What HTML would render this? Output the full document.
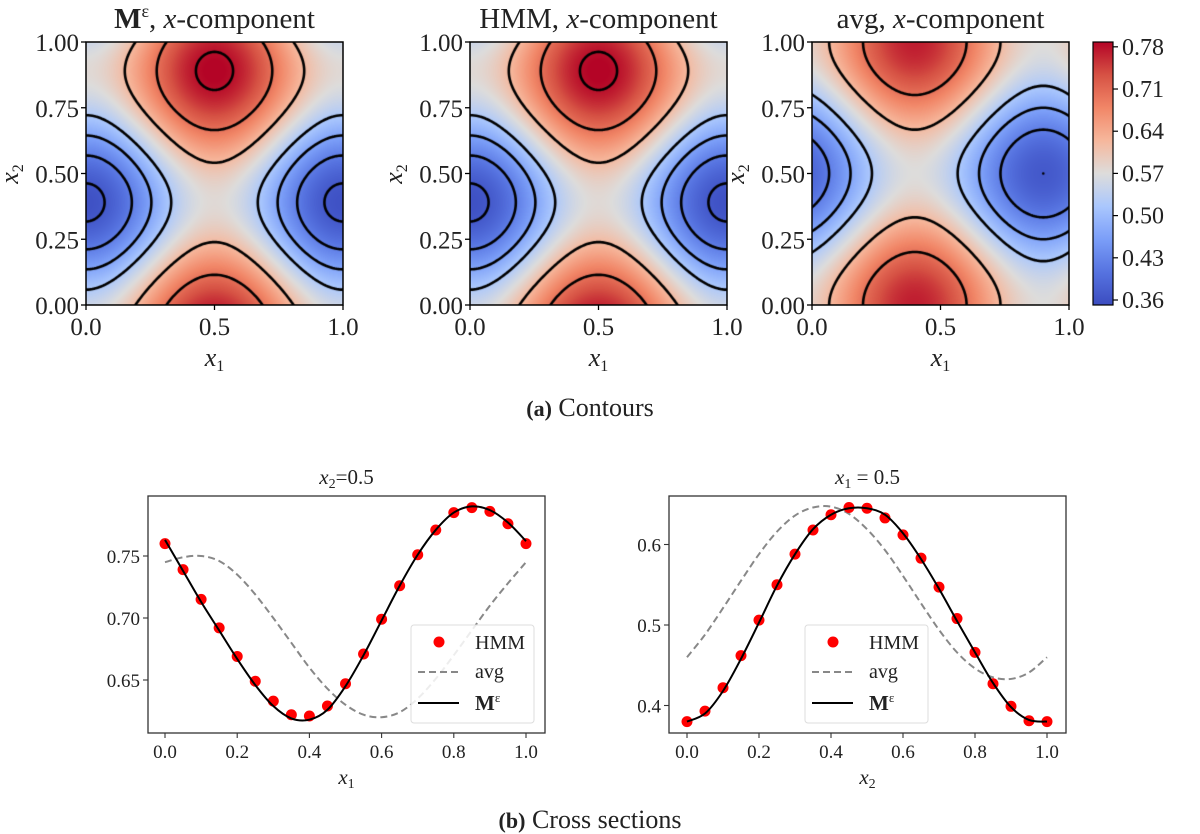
<!DOCTYPE html>
<html><head><meta charset="utf-8">
<style>
html,body{margin:0;padding:0;background:#fff;}
#root{position:relative;width:1200px;height:834px;overflow:hidden;font-family:"Liberation Serif",serif;}
canvas{position:absolute;}
svg{position:absolute;left:0;top:0;}
</style></head>
<body>
<div id="root">
<canvas id="c0" width="257" height="263" style="left:86px;top:42px"></canvas>
<canvas id="c1" width="257" height="263" style="left:470px;top:42px"></canvas>
<canvas id="c2" width="257" height="263" style="left:812px;top:42px"></canvas>
<svg id="s" width="1200" height="834"></svg>
</div>
<script>
// ---- data ----
const panelTitles = ["M^ε", "HMM", "avg"];
const panelLeft = [86, 470, 812];
const fieldMean = [0.575, 0.575, 0.57];
const fieldAmp = [0.108, 0.108, 0.1];
const fieldPhaseX1 = [0.0, 0.0, 0.4];
const fieldPhaseX2 = [0.89, 0.89, 0.0];
const fieldSignX1 = [-1, -1, 1];
const contourLevels = [0.37, 0.42, 0.47, 0.52, 0.62, 0.70, 0.78];
const cbTicks = [0.36, 0.43, 0.50, 0.57, 0.64, 0.71, 0.78];
const vmin = 0.3517, vmax = 0.788;
const topXTicks = [0.0, 0.5, 1.0];
const topYTicks = [0.00, 0.25, 0.50, 0.75, 1.00];

const xs = [0,0.05,0.1,0.15,0.2,0.25,0.3,0.35,0.4,0.45,0.5,0.55,0.6,0.65,0.7,0.75,0.8,0.85,0.9,0.95,1.0];
const hmmA = [0.760,0.739,0.715,0.692,0.669,0.649,0.633,0.622,0.621,0.629,0.647,0.671,0.699,0.726,0.751,0.771,0.785,0.789,0.786,0.776,0.760];
const avgA = [0.745,0.749,0.750,0.746,0.735,0.719,0.700,0.680,0.660,0.643,0.630,0.622,0.620,0.624,0.635,0.651,0.670,0.690,0.710,0.728,0.745];
const mA = [0.763,0.738,0.713,0.690,0.667,0.646,0.629,0.619,0.618,0.626,0.645,0.670,0.698,0.726,0.751,0.771,0.785,0.790,0.787,0.777,0.762];
const hmmB = [0.380,0.393,0.422,0.462,0.506,0.550,0.588,0.618,0.637,0.646,0.645,0.633,0.612,0.583,0.547,0.508,0.466,0.427,0.399,0.381,0.380];
const avgB = [0.460,0.488,0.521,0.555,0.588,0.616,0.636,0.646,0.647,0.638,0.619,0.593,0.561,0.527,0.494,0.466,0.446,0.435,0.433,0.441,0.460];
const mB = [0.380,0.390,0.418,0.458,0.503,0.549,0.588,0.619,0.637,0.645,0.645,0.637,0.614,0.582,0.545,0.505,0.466,0.428,0.398,0.382,0.380];
const xTicksB = [0.0,0.2,0.4,0.6,0.8,1.0];
const yTicksA = [0.65,0.70,0.75];
const yTicksB = [0.4,0.5,0.6];

// ---- colormap ----
const cmStops=[[59,76,192],[86,115,224],[123,158,248],[170,199,253],[221,220,219],[246,183,156],[241,134,103],[214,82,68],[180,4,38]];
function cmap(v){let t=(v-vmin)/(vmax-vmin);t=Math.max(0,Math.min(1,t));const s=t*8;const i=Math.min(7,Math.floor(s));const f=s-i;const a=cmStops[i],b=cmStops[i+1];return [a[0]+(b[0]-a[0])*f,a[1]+(b[1]-a[1])*f,a[2]+(b[2]-a[2])*f];}
function field(p,x1,x2){return fieldMean[p]+fieldAmp[p]*(fieldSignX1[p]*Math.cos(2*Math.PI*(x1-fieldPhaseX1[p]))+Math.cos(2*Math.PI*(x2-fieldPhaseX2[p])));}

const W=257,H=263;
for(let p=0;p<3;p++){
  const cv=document.getElementById('c'+p),ctx=cv.getContext('2d');
  const img=ctx.createImageData(W,H);
  for(let j=0;j<H;j++)for(let i=0;i<W;i++){
    const c=cmap(field(p,(i+0.5)/W,1-(j+0.5)/H));const k=(j*W+i)*4;
    img.data[k]=c[0];img.data[k+1]=c[1];img.data[k+2]=c[2];img.data[k+3]=255;}
  ctx.putImageData(img,0,0);
  const N=120;const g=[];
  for(let j=0;j<=N;j++){g.push([]);for(let i=0;i<=N;i++)g[j].push(field(p,i/N,1-j/N));}
  ctx.strokeStyle='#000';ctx.lineWidth=2.6;ctx.lineCap='round';
  for(const L of contourLevels){
    ctx.beginPath();
    for(let j=0;j<N;j++)for(let i=0;i<N;i++){
      const v=[g[j][i],g[j][i+1],g[j+1][i+1],g[j+1][i]];
      const P=[[i,j],[i+1,j],[i+1,j+1],[i,j+1]];
      const pts=[];
      for(let e=0;e<4;e++){const a=v[e],b=v[(e+1)%4];
        if((a<L)!==(b<L)){const t=(L-a)/(b-a);const A=P[e],B=P[(e+1)%4];
          pts.push([(A[0]+(B[0]-A[0])*t)*W/N,(A[1]+(B[1]-A[1])*t)*H/N]);}}
      for(let k=0;k+1<pts.length;k+=2){ctx.moveTo(pts[k][0],pts[k][1]);ctx.lineTo(pts[k+1][0],pts[k+1][1]);}
    }
    ctx.stroke();
  }
}

// ---- SVG ----
const S=document.getElementById('s');const NS='http://www.w3.org/2000/svg';
function el(tag,attrs,parent){const e=document.createElementNS(NS,tag);for(const k in attrs)e.setAttribute(k,attrs[k]);(parent||S).appendChild(e);return e;}
function txt(x,y,str,size,anchor,extra){const t=el('text',Object.assign({x:x,y:y,'font-size':size,'text-anchor':anchor||'middle','font-family':'"Liberation Serif",serif',fill:'#222'},extra||{}));t.innerHTML=str;return t;}

const titleHTML=['<tspan font-weight="bold">M</tspan><tspan font-size="18" dy="-11">ε</tspan><tspan dy="11">, </tspan><tspan font-style="italic">x</tspan>-component',
 'HMM, <tspan font-style="italic">x</tspan>-component','avg, <tspan font-style="italic">x</tspan>-component'];
for(let p=0;p<3;p++){
  const x0=panelLeft[p];
  const g=el('g',{});
  
  
  el('rect',{x:x0,y:42,width:W,height:H,fill:'none',stroke:'#000','stroke-width':1.5},g);
  const t=txt(x0+W/2,28,titleHTML[p],29,'middle');
  
  
  g.appendChild(t);
  for(const v of topXTicks){const x=x0+v*W;el('line',{x1:x,x2:x,y1:305,y2:310,stroke:'#000','stroke-width':1.3},g);
    const tl=txt(x,335,v.toFixed(1),25);g.appendChild(tl);}
  for(const v of topYTicks){const y=305-v*H;el('line',{x1:x0-5,x2:x0,y1:y,y2:y,stroke:'#000','stroke-width':1.3},g);
    const tl=txt(x0-7,y+9,v.toFixed(2),25,'end');g.appendChild(tl);}
  const xl=txt(x0+W/2,366,'<tspan font-style="italic">x</tspan><tspan font-size="16" dy="5">1</tspan>',26);
  g.appendChild(xl);
  const yl=txt(0,0,'<tspan font-style="italic">x</tspan><tspan font-size="16" dy="5">2</tspan>',26,'middle',{transform:'translate('+(x0-68)+',174) rotate(-90)'});
  g.appendChild(yl);
}
// colorbar
const defs=el('defs',{});const lg=el('linearGradient',{id:'cbg',x1:0,y1:1,x2:0,y2:0},defs);
for(let i=0;i<=16;i++){const c=cmap(vmin+(vmax-vmin)*i/16);el('stop',{offset:i/16,'stop-color':'rgb('+c.map(Math.round).join(',')+')'},lg);}
const cb=el('g',{});
el('rect',{x:1093,y:42,width:20,height:263,fill:'url(#cbg)',stroke:'#000','stroke-width':1.2},cb);
for(const v of cbTicks){const y=305-(v-vmin)/(vmax-vmin)*263;el('line',{x1:1113,x2:1118,y1:y,y2:y,stroke:'#000','stroke-width':1.2},cb);
  const tl=txt(1122,y+8,v.toFixed(2),24,'start');cb.appendChild(tl);}
const capA=txt(590,416,'<tspan font-weight="bold" font-size="22">(a)</tspan>  Contours',26);

const capB=txt(590,828,'<tspan font-weight="bold" font-size="22">(b)</tspan>  Cross sections',26);


function smoothPath(pts){let d='M'+pts[0][0]+','+pts[0][1];for(let i=0;i<pts.length-1;i++){const p0=pts[Math.max(0,i-1)],p1=pts[i],p2=pts[i+1],p3=pts[Math.min(pts.length-1,i+2)];
  d+=' C'+(p1[0]+(p2[0]-p0[0])/6)+','+(p1[1]+(p2[1]-p0[1])/6)+' '+(p2[0]-(p3[0]-p1[0])/6)+','+(p2[1]-(p3[1]-p1[1])/6)+' '+p2[0]+','+p2[1];}return d;}
function crossPlot(cfg){
  const g=el('g',{});
  const sx=v=>cfg.x0+(cfg.x1-cfg.x0)*v;
  const sy=v=>cfg.yRef-(v-cfg.vRef)*cfg.k;
  el('rect',{x:cfg.bx0,y:496,width:cfg.bx1-cfg.bx0,height:237,fill:'#fff',stroke:'#333','stroke-width':1.3},g);
  const avg=el('path',{d:smoothPath(xs.map((x,i)=>[sx(x),sy(cfg.avg[i])])),fill:'none',stroke:'#888','stroke-width':2,'stroke-dasharray':'7,4'},g);
  
  for(let i=0;i<xs.length;i++){const c=el('circle',{cx:sx(xs[i]),cy:sy(cfg.hmm[i]),r:5.5,fill:'#f00'},g);
    }
  const m=el('path',{d:smoothPath(xs.map((x,i)=>[sx(x),sy(cfg.m[i])])),fill:'none',stroke:'#000','stroke-width':2},g);
  
  for(const v of xTicksB){const x=sx(v);el('line',{x1:x,x2:x,y1:733,y2:738,stroke:'#333','stroke-width':1.1},g);
    const tl=txt(x,758,v.toFixed(1),19);g.appendChild(tl);}
  for(const v of cfg.yt){const y=sy(v);el('line',{x1:cfg.bx0-5,x2:cfg.bx0,y1:y,y2:y,stroke:'#333','stroke-width':1.1},g);
    const tl=txt(cfg.bx0-8,y+7,v.toFixed(cfg.dec),19,'end');g.appendChild(tl);}
  const tt=txt((cfg.bx0+cfg.bx1)/2,484,cfg.title,21);g.appendChild(tt);
  const xl=txt((cfg.bx0+cfg.bx1)/2,784,cfg.xlab,21);g.appendChild(xl);
  const lgd=el('g',{},g);
  const lx=cfg.lx;
  el('rect',{x:lx,y:625,width:123,height:98,rx:3,fill:'#fff','fill-opacity':0.85,stroke:'#ddd','stroke-width':1},lgd);
  el('circle',{cx:lx+28,cy:642,r:5.5,fill:'#f00'},lgd);
  const t1=txt(lx+64,649,'HMM',20,'start');lgd.appendChild(t1);
  el('line',{x1:lx+7,x2:lx+48,y1:672,y2:672,stroke:'#888','stroke-width':2,'stroke-dasharray':'7,4'},lgd);
  const t2=txt(lx+64,678,'avg',20,'start');lgd.appendChild(t2);
  el('line',{x1:lx+7,x2:lx+48,y1:703,y2:703,stroke:'#000','stroke-width':2},lgd);
  const t3=txt(lx+64,710,'<tspan font-weight="bold">M</tspan><tspan font-size="13" dy="-8">ε</tspan>',21,'start');lgd.appendChild(t3);
}
crossPlot({name:'cross-section-x2',bx0:148,bx1:545,x0:165,x1:526,yRef:556,vRef:0.75,k:1240,hmm:hmmA,avg:avgA,m:mA,yt:yTicksA,dec:2,lx:411,
  title:'<tspan font-style="italic">x</tspan><tspan font-size="14" dy="4">2</tspan><tspan dy="-4">=0.5</tspan>',
  xlab:'<tspan font-style="italic">x</tspan><tspan font-size="14" dy="4">1</tspan>'});
crossPlot({name:'cross-section-x1',bx0:669,bx1:1066,x0:687,x1:1047,yRef:625,vRef:0.5,k:805,hmm:hmmB,avg:avgB,m:mB,yt:yTicksB,dec:1,lx:805,
  title:'<tspan font-style="italic">x</tspan><tspan font-size="14" dy="4">1</tspan><tspan dy="-4"> = 0.5</tspan>',
  xlab:'<tspan font-style="italic">x</tspan><tspan font-size="14" dy="4">2</tspan>'});
</script>
</body></html>
